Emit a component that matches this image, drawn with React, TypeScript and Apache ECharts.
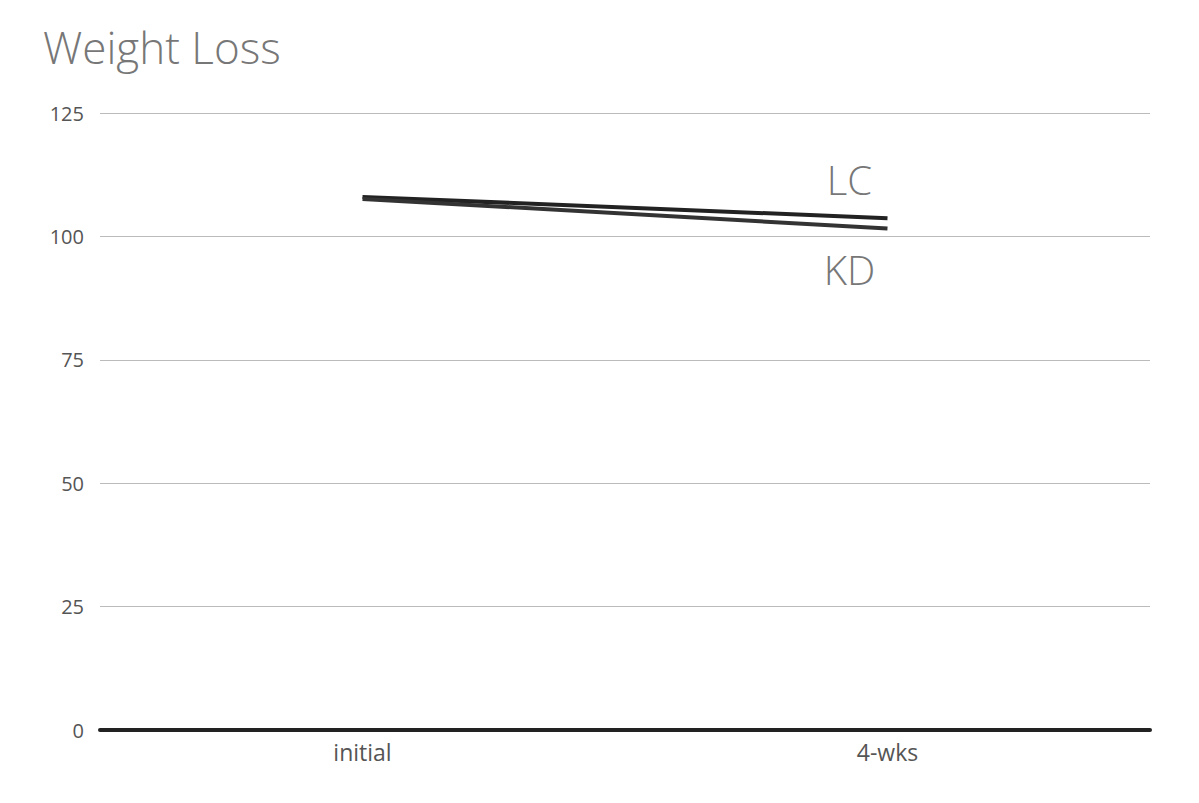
import { useEffect, useRef } from "react";
import * as echarts from "echarts";

const categories = ["initial", "4-wks"];
const lcValues = [108, 103.7];
const kdValues = [107.6, 101.6];
const yTicks = [0, 25, 50, 75, 100, 125];

export default function App() {
  const chartRef = useRef<HTMLDivElement>(null);

  useEffect(() => {
    if (!chartRef.current) return;
    const chart = echarts.init(chartRef.current, null, { renderer: "svg" });

    const font = "'Open Sans', 'Noto Sans', sans-serif";

    const lastLabel = (name: string, pos: "top" | "bottom") => ({
      show: true,
      formatter: name,
      position: pos,
      offset: pos === "top" ? [-38, -14] : [-38, 16],
      color: "#777",
      fontSize: 40,
      fontFamily: font,
      fontWeight: 300,
    });

    chart.setOption({
      animation: false,
      backgroundColor: "#fff",
      title: {
        text: "Weight Loss",
        left: 38,
        top: 20,
        textStyle: { fontFamily: font, fontSize: 44, fontWeight: 300, color: "#777" },
      },
      grid: { left: 100, right: 49, top: 113, bottom: 73 },
      xAxis: {
        type: "category",
        data: categories,
        axisTick: { show: false },
        axisLine: { lineStyle: { color: "#222", width: 4 } },
        axisLabel: { color: "#555", fontSize: 23, fontFamily: font, margin: 10 },
      },
      yAxis: {
        type: "value",
        min: yTicks[0],
        max: yTicks[yTicks.length - 1],
        interval: 25,
        axisLine: { show: false },
        axisTick: { show: false },
        axisLabel: { color: "#555", fontSize: 20, fontFamily: font, margin: 16 },
        splitLine: { lineStyle: { color: "#bbb", width: 1 } },
      },
      series: [
        {
          name: "LC",
          type: "line",
          data: lcValues.map((v, i) =>
            i === lcValues.length - 1 ? { value: v, label: lastLabel("LC", "top") } : v
          ),
          symbol: "circle",
          symbolSize: 0,
          showSymbol: true,
          lineStyle: { color: "#222", width: 4 },
        },
        {
          name: "KD",
          type: "line",
          data: kdValues.map((v, i) =>
            i === kdValues.length - 1 ? { value: v, label: lastLabel("KD", "bottom") } : v
          ),
          symbol: "circle",
          symbolSize: 0,
          showSymbol: true,
          lineStyle: { color: "#333", width: 4 },
        },
      ],
    });

    return () => chart.dispose();
  }, []);

  return (
    <div
      ref={chartRef}
      style={{ position: "fixed", left: 0, top: 0, width: "1199px", height: "803px" }}
    />
  );
}
